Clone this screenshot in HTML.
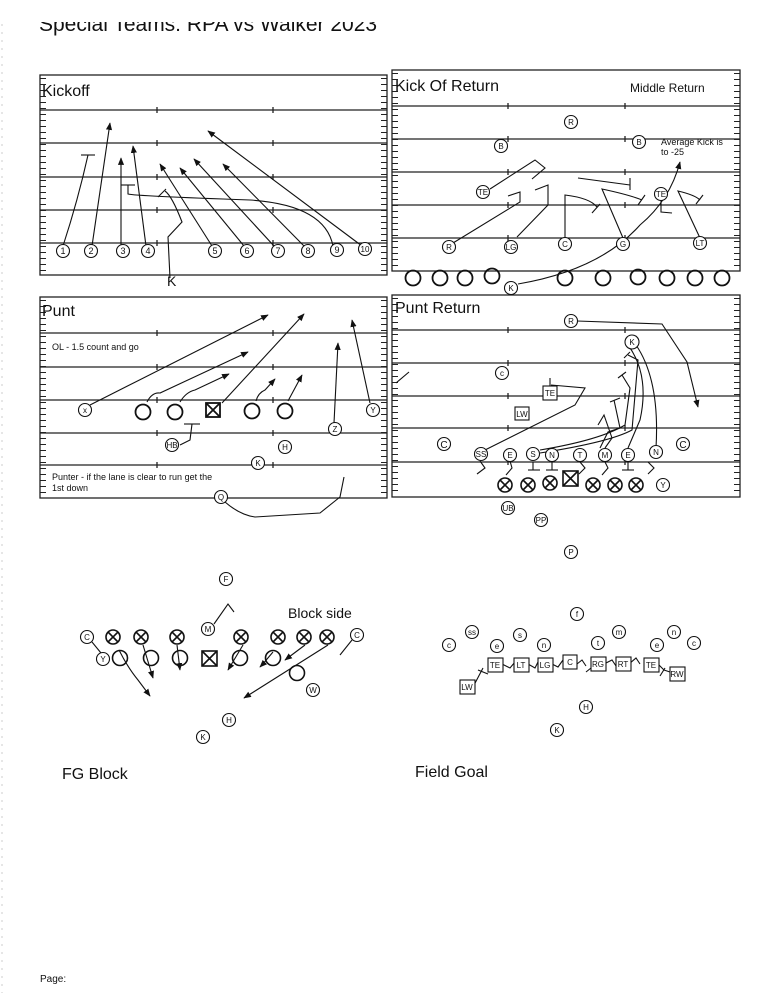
<!DOCTYPE html>
<html><head><meta charset="utf-8"><style>
html,body{margin:0;padding:0;background:#fff;}
svg{display:block;}
text{font-family:"Liberation Sans",Arial,sans-serif;fill:#111;}
</style></head><body>
<svg width="768" height="993" viewBox="0 0 768 993" xmlns="http://www.w3.org/2000/svg">
<defs>
<marker id="a" viewBox="0 0 10 10" refX="9" refY="5" markerWidth="7" markerHeight="7" orient="auto-start-reverse"><path d="M0,1 L10,5 L0,9 z" fill="#111"/></marker>
</defs>
<rect width="768" height="993" fill="#fff"/>
<line x1="2" y1="0" x2="2" y2="993" stroke="#ccc" stroke-width="1" stroke-dasharray="2,6"/>
<text x="39" y="31" font-size="21">Special Teams: RPA vs Walker 2023</text>
<rect x="0" y="0" width="768" height="22" fill="#fff"/>

<g stroke="#222" fill="none" stroke-width="1.3">
<rect x="40" y="75" width="347" height="200"/>
<path d="M40 110H387M40 143H387M40 177H387M40 210H387M40 243H387"/>
<path d="M157 107v6M157 140v6M157 174v6M157 207v6M157 240v6M273 107v6M273 140v6M273 174v6M273 207v6M273 240v6" />
<line x1="43" y1="78" x2="43" y2="273" stroke-width="6" stroke-dasharray="1,5"/>
<line x1="384" y1="78" x2="384" y2="273" stroke-width="6" stroke-dasharray="1,5"/>
<rect x="392" y="70" width="348" height="201"/>
<path d="M392 106H740M392 139H740M392 172H740M392 205H740M392 238H740"/>
<path d="M508 103v6M508 136v6M508 169v6M508 202v6M508 235v6M625 103v6M625 136v6M625 169v6M625 202v6M625 235v6"/>
<line x1="395" y1="73" x2="395" y2="269" stroke-width="6" stroke-dasharray="1,5"/>
<line x1="737" y1="73" x2="737" y2="269" stroke-width="6" stroke-dasharray="1,5"/>
<rect x="40" y="297" width="347" height="201"/>
<path d="M40 333H387M40 367H387M40 400H387M40 433H387M40 465H387"/>
<path d="M157 330v6M157 364v6M157 397v6M157 430v6M157 462v6M273 330v6M273 364v6M273 397v6M273 430v6M273 462v6"/>
<line x1="43" y1="300" x2="43" y2="496" stroke-width="6" stroke-dasharray="1,5"/>
<line x1="384" y1="300" x2="384" y2="496" stroke-width="6" stroke-dasharray="1,5"/>
<rect x="392" y="295" width="348" height="202"/>
<path d="M392 330H740M392 363H740M392 396H740M392 428H740M392 462H740"/>
<path d="M508 327v6M508 360v6M508 393v6M508 425v6M508 459v6M625 327v6M625 360v6M625 393v6M625 425v6M625 459v6"/>
<line x1="395" y1="298" x2="395" y2="495" stroke-width="6" stroke-dasharray="1,5"/>
<line x1="737" y1="298" x2="737" y2="495" stroke-width="6" stroke-dasharray="1,5"/>
</g>

<g stroke="#111" fill="none" stroke-width="1.1">
<path d="M63 246 Q78 200 88 155"/><path d="M81 155h14"/>
<path d="M92 246 L110 123" marker-end="url(#a)"/>
<path d="M121 246 V158" marker-end="url(#a)"/>
<path d="M146 246 L133 146" marker-end="url(#a)"/>
<path d="M212 246 L160 164" marker-end="url(#a)"/>
<path d="M244 246 L180 168" marker-end="url(#a)"/>
<path d="M274 246 L194 159" marker-end="url(#a)"/>
<path d="M304 246 L223 164" marker-end="url(#a)"/>
<path d="M362 246 L208 131" marker-end="url(#a)"/>
<path d="M333 246 Q325 205 250 200 Q135 196 128 194 V185"/><path d="M121 185h14"/>
<path d="M170 278 L168 237 L182 222 Q172 196 165 191"/><path d="M158 197 L166 189"/>
</g>
<g font-size="9" text-anchor="middle">
<g stroke="#111" fill="#fff" stroke-width="1.1">
<circle cx="63" cy="251" r="6.5"/><circle cx="91" cy="251" r="6.5"/><circle cx="123" cy="251" r="6.5"/><circle cx="148" cy="251" r="6.5"/><circle cx="215" cy="251" r="6.5"/><circle cx="247" cy="251" r="6.5"/><circle cx="278" cy="251" r="6.5"/><circle cx="308" cy="251" r="6.5"/><circle cx="337" cy="250" r="6.5"/><circle cx="365" cy="249" r="6.5"/>
</g>
<text x="63" y="254">1</text><text x="91" y="254">2</text><text x="123" y="254">3</text><text x="148" y="254">4</text><text x="215" y="254">5</text><text x="247" y="254">6</text><text x="278" y="254">7</text><text x="308" y="254">8</text><text x="337" y="253">9</text><text x="365" y="252" font-size="8">10</text>
</g>
<text x="42" y="96" font-size="16">Kickoff</text>
<text x="167" y="286" font-size="14">K</text>

<text x="395" y="91" font-size="16">Kick Of Return</text>
<text x="630" y="92" font-size="12">Middle Return</text>
<text x="661" y="145" font-size="9">Average Kick is</text>
<text x="661" y="155" font-size="9">to -25</text>
<g stroke="#111" fill="none" stroke-width="1.1">
<path d="M490 189 L535 160 L545 168 L532 179"/>
<path d="M453 243 L520 202 V192 L508 196"/>
<path d="M517 237 L548 205 V185 L535 190"/>
<path d="M565 238 V195 Q590 198 597 207"/><path d="M592 213 L600 204"/>
<path d="M578 178 L630 185"/><path d="M630 178 v12"/>
<path d="M623 238 L602 189 Q630 195 642 200"/><path d="M638 205 L645 195"/>
<path d="M661 200 V212 L672 213"/>
<path d="M700 238 L678 191 Q695 195 700 200"/><path d="M696 204 L703 195"/>
<path d="M518 284 Q600 270 640 225 Q670 200 680 162" marker-end="url(#a)"/>
</g>
<g stroke="#111" fill="none" stroke-width="1.8">
<circle cx="413" cy="278" r="7.5"/><circle cx="440" cy="278" r="7.5"/><circle cx="465" cy="278" r="7.5"/><circle cx="492" cy="276" r="7.5"/><circle cx="565" cy="278" r="7.5"/><circle cx="603" cy="278" r="7.5"/><circle cx="638" cy="277" r="7.5"/><circle cx="667" cy="278" r="7.5"/><circle cx="695" cy="278" r="7.5"/><circle cx="722" cy="278" r="7.5"/>
</g>
<g stroke="#111" fill="#fff" stroke-width="1.1">
<circle cx="571" cy="122" r="6.5"/><circle cx="501" cy="146" r="6.5"/><circle cx="639" cy="142" r="6.5"/><circle cx="483" cy="192" r="6.5"/><circle cx="661" cy="194" r="6.5"/>
<circle cx="449" cy="247" r="6.5"/><circle cx="511" cy="247" r="6.5"/><circle cx="565" cy="244" r="6.5"/><circle cx="623" cy="244" r="6.5"/><circle cx="700" cy="243" r="6.5"/><circle cx="511" cy="288" r="6.5"/>
</g>
<g font-size="8" text-anchor="middle">
<text x="571" y="125">R</text><text x="501" y="149">B</text><text x="639" y="145">B</text><text x="483" y="195">TE</text><text x="661" y="197">TE</text>
<text x="449" y="250">R</text><text x="511" y="250">LG</text><text x="565" y="247">C</text><text x="623" y="247">G</text><text x="700" y="246">LT</text><text x="511" y="291">K</text>
</g>

<text x="42" y="316" font-size="16">Punt</text>
<text x="52" y="350" font-size="9">OL - 1.5 count and go</text>
<text x="52" y="480" font-size="9">Punter - if the lane is clear to run get the</text>
<text x="52" y="491" font-size="9">1st down</text>
<g stroke="#111" fill="none" stroke-width="1.1">
<path d="M90 405 L268 315" marker-end="url(#a)"/>
<path d="M147 402 Q152 392 160 393 L248 352" marker-end="url(#a)"/>
<path d="M180 402 Q186 392 195 390 L229 374" marker-end="url(#a)"/>
<path d="M222 403 L304 314" marker-end="url(#a)"/>
<path d="M256 401 Q258 393 265 390 L275 379" marker-end="url(#a)"/>
<path d="M288 401 L302 375" marker-end="url(#a)"/>
<path d="M334 423 L338 343" marker-end="url(#a)"/>
<path d="M370 403 L352 320" marker-end="url(#a)"/>
<path d="M180 445 L190 440 L192 424"/><path d="M184 424h16"/>
<path d="M225 502 Q240 515 255 517 L320 513 L340 497 L344 477"/>
</g>
<g stroke="#111" fill="none" stroke-width="1.8">
<circle cx="143" cy="412" r="7.5"/><circle cx="175" cy="412" r="7.5"/><circle cx="252" cy="411" r="7.5"/><circle cx="285" cy="411" r="7.5"/>
<rect x="206" y="403" width="14" height="14"/><path d="M206 403l14 14M220 403l-14 14"/>
</g>
<g stroke="#111" fill="#fff" stroke-width="1.1">
<circle cx="85" cy="410" r="6.5"/><circle cx="373" cy="410" r="6.5"/><circle cx="335" cy="429" r="6.5"/><circle cx="172" cy="445" r="6.5"/><circle cx="285" cy="447" r="6.5"/><circle cx="258" cy="463" r="6.5"/><circle cx="221" cy="497" r="6.5"/>
</g>
<g font-size="8" text-anchor="middle">
<text x="85" y="413">x</text><text x="373" y="413">Y</text><text x="335" y="432">Z</text><text x="172" y="448">HB</text><text x="285" y="450">H</text><text x="258" y="466">K</text><text x="221" y="500">Q</text>
</g>

<text x="395" y="313" font-size="16">Punt Return</text>
<g stroke="#111" fill="none" stroke-width="1.1">
<path d="M577 321 L662 324 L687 362 L698 407" marker-end="url(#a)"/>
<path d="M409 372 L396 383"/>
<path d="M485 450 L575 405 L585 388 L551 385"/><path d="M550 378 V386"/>
<path d="M636 345 Q660 380 656 448"/>
<path d="M628 345 Q650 375 640 420 L628 448"/>
<path d="M540 450 Q600 440 625 425 L630 388 L622 375"/><path d="M618 378 L626 372"/>
<path d="M540 453 Q610 442 632 430 L638 360 L628 355"/><path d="M624 358 L630 352"/>
<path d="M600 448 L608 432 L620 428 L614 400"/><path d="M610 402 L620 398"/>
<path d="M605 448 L612 438 L604 415 L598 425"/>
<path d="M480 461 L485 468 L477 474"/><path d="M510 461 L512 468 L506 475"/><path d="M533 462 V470"/><path d="M528 470h12"/><path d="M552 462 V470"/><path d="M546 470h12"/><path d="M580 462 L585 468 L579 474"/><path d="M605 462 L608 468 L602 475"/><path d="M628 462 V470"/><path d="M622 470h12"/><path d="M648 462 L654 468 L648 474"/>
</g>
<g stroke="#111" fill="#fff" stroke-width="1.1">
<circle cx="571" cy="321" r="6.5"/><circle cx="632" cy="342" r="7"/><circle cx="502" cy="373" r="6.5"/><circle cx="444" cy="444" r="6.5"/><circle cx="683" cy="444" r="6.5"/>
<rect x="543" y="386" width="14" height="14"/><rect x="515" y="407" width="14" height="13"/>
<circle cx="481" cy="454" r="6.5"/><circle cx="510" cy="455" r="6.5"/><circle cx="533" cy="454" r="6.5"/><circle cx="552" cy="455" r="6.5"/><circle cx="580" cy="455" r="6.5"/><circle cx="605" cy="455" r="6.5"/><circle cx="628" cy="455" r="6.5"/><circle cx="656" cy="452" r="6.5"/>
<circle cx="663" cy="485" r="6.5"/><circle cx="508" cy="508" r="6.5"/><circle cx="541" cy="520" r="6.5"/><circle cx="571" cy="552" r="6.5"/>
</g>
<g stroke="#111" fill="none" stroke-width="1.6">
<circle cx="505" cy="485" r="7"/><path d="M500 480l10 10M510 480l-10 10"/>
<circle cx="528" cy="485" r="7"/><path d="M523 480l10 10M533 480l-10 10"/>
<circle cx="550" cy="483" r="7"/><path d="M545 478l10 10M555 478l-10 10"/>
<rect x="563" y="471" width="15" height="15"/><path d="M563 471l15 15M578 471l-15 15"/>
<circle cx="593" cy="485" r="7"/><path d="M588 480l10 10M598 480l-10 10"/>
<circle cx="615" cy="485" r="7"/><path d="M610 480l10 10M620 480l-10 10"/>
<circle cx="636" cy="485" r="7"/><path d="M631 480l10 10M641 480l-10 10"/>
</g>
<g font-size="8" text-anchor="middle">
<text x="571" y="324">R</text><text x="632" y="345">K</text><text x="502" y="376">c</text><text x="444" y="448" font-size="10">C</text><text x="683" y="448" font-size="10">C</text>
<text x="550" y="396">TE</text><text x="522" y="417">LW</text>
<text x="481" y="457">SS</text><text x="510" y="458">E</text><text x="533" y="457">S</text><text x="552" y="458">N</text><text x="580" y="458">T</text><text x="605" y="458">M</text><text x="628" y="458">E</text><text x="656" y="455">N</text>
<text x="663" y="488">Y</text><text x="508" y="511">UB</text><text x="541" y="523">PP</text><text x="571" y="555">P</text>
</g>

<text x="62" y="779" font-size="16">FG Block</text>
<text x="288" y="618" font-size="14">Block side</text>
<g stroke="#111" fill="none" stroke-width="1.1">
<path d="M92 642 L101 653"/>
<path d="M119 650 Q128 668 138 680 L150 696" marker-end="url(#a)"/>
<path d="M143 645 L153 678" marker-end="url(#a)"/>
<path d="M177 645 L180 670" marker-end="url(#a)"/>
<path d="M243 645 L228 670" marker-end="url(#a)"/>
<path d="M273 652 L262 665 L260 667" marker-end="url(#a)"/>
<path d="M305 645 L285 660" marker-end="url(#a)"/>
<path d="M328 645 L244 698" marker-end="url(#a)"/>
<path d="M214 624 L228 604 L234 612"/>
<path d="M352 640 L340 655"/>
</g>
<g stroke="#111" fill="none" stroke-width="1.6">
<circle cx="113" cy="637" r="7"/><path d="M108 632l10 10M118 632l-10 10"/>
<circle cx="141" cy="637" r="7"/><path d="M136 632l10 10M146 632l-10 10"/>
<circle cx="177" cy="637" r="7"/><path d="M172 632l10 10M182 632l-10 10"/>
<circle cx="241" cy="637" r="7"/><path d="M236 632l10 10M246 632l-10 10"/>
<circle cx="278" cy="637" r="7"/><path d="M273 632l10 10M283 632l-10 10"/>
<circle cx="304" cy="637" r="7"/><path d="M299 632l10 10M309 632l-10 10"/>
<circle cx="327" cy="637" r="7"/><path d="M322 632l10 10M332 632l-10 10"/>
<circle cx="120" cy="658" r="7.5"/><circle cx="151" cy="658" r="7.5"/><circle cx="180" cy="658" r="7.5"/><circle cx="240" cy="658" r="7.5"/><circle cx="273" cy="658" r="7.5"/><circle cx="297" cy="673" r="7.5"/>
<rect x="202" y="651" width="15" height="15"/><path d="M202 651l15 15M217 651l-15 15"/>
</g>
<g stroke="#111" fill="#fff" stroke-width="1.1">
<circle cx="226" cy="579" r="6.5"/><circle cx="87" cy="637" r="6.5"/><circle cx="208" cy="629" r="6.5"/><circle cx="357" cy="635" r="6.5"/><circle cx="103" cy="659" r="6.5"/><circle cx="313" cy="690" r="6.5"/><circle cx="229" cy="720" r="6.5"/><circle cx="203" cy="737" r="6.5"/>
</g>
<g font-size="8" text-anchor="middle">
<text x="226" y="582">F</text><text x="87" y="640">C</text><text x="208" y="632">M</text><text x="357" y="638">C</text><text x="103" y="662">Y</text><text x="313" y="693">W</text><text x="229" y="723">H</text><text x="203" y="740">K</text>
</g>

<text x="415" y="777" font-size="16">Field Goal</text>
<g stroke="#111" fill="none" stroke-width="1.1">
<path d="M473 687 L483 668"/><path d="M478 670 L488 674"/>
<path d="M502 664 L510 668 L515 662"/><path d="M528 664 L535 668 L539 660"/><path d="M552 664 L558 667 L563 660"/>
<path d="M577 664 L582 660 L586 666"/><path d="M591 668 L586 672"/>
<path d="M604 664 L612 660 L616 666"/><path d="M629 664 L636 658 L640 664"/>
<path d="M658 664 L664 670 L670 672"/><path d="M660 676 L665 668"/>
</g>
<g stroke="#111" fill="#fff" stroke-width="1.1">
<circle cx="577" cy="614" r="6.5"/><circle cx="472" cy="632" r="6.5"/><circle cx="520" cy="635" r="6.5"/><circle cx="497" cy="646" r="6.5"/><circle cx="544" cy="645" r="6.5"/><circle cx="449" cy="645" r="6.5"/><circle cx="598" cy="643" r="6.5"/><circle cx="619" cy="632" r="6.5"/><circle cx="657" cy="645" r="6.5"/><circle cx="674" cy="632" r="6.5"/><circle cx="694" cy="643" r="6.5"/>
<circle cx="586" cy="707" r="6.5"/><circle cx="557" cy="730" r="6.5"/>
<rect x="488" y="658" width="15" height="14"/><rect x="514" y="658" width="15" height="14"/><rect x="538" y="658" width="15" height="14"/><rect x="563" y="655" width="14" height="14"/><rect x="591" y="657" width="15" height="14"/><rect x="616" y="657" width="15" height="14"/><rect x="644" y="658" width="15" height="14"/><rect x="670" y="667" width="15" height="14"/><rect x="460" y="680" width="15" height="14"/>
</g>
<g font-size="8" text-anchor="middle">
<text x="577" y="617">f</text><text x="472" y="635">ss</text><text x="520" y="638">s</text><text x="497" y="649">e</text><text x="544" y="648">n</text><text x="449" y="648">c</text><text x="598" y="646">t</text><text x="619" y="635">m</text><text x="657" y="648">e</text><text x="674" y="635">n</text><text x="694" y="646">c</text>
<text x="586" y="710">H</text><text x="557" y="733">K</text>
<text x="495" y="668">TE</text><text x="521" y="668">LT</text><text x="545" y="668">LG</text><text x="570" y="665">C</text><text x="598" y="667">RG</text><text x="623" y="667">RT</text><text x="651" y="668">TE</text><text x="677" y="677">RW</text><text x="467" y="690">LW</text>
</g>

<text x="40" y="982" font-size="10">Page:</text>
</svg>
</body></html>
